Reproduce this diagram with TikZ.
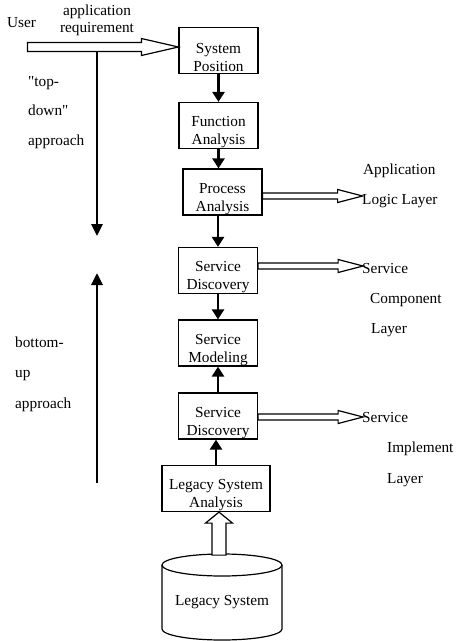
\documentclass[tikz,border=0pt]{standalone}
\usepackage{fontspec}
\setmainfont{Liberation Serif}
\usetikzlibrary{arrows.meta}
\tikzset{
	box/.style={draw, line width=1.2pt, minimum width=79pt, minimum height=46pt, inner sep=0pt,
		label={[align=center, yshift=-7pt]center:#1}},
	flow/.style={line width=2.5pt, -{Triangle[length=10pt,width=12pt]}},
	trend/.style={line width=2.8pt, -{Triangle[length=12pt,width=11pt]}},
	hollow/.style={line width=1.2pt, fill=white, line join=miter},
	note/.style={anchor=base west, inner sep=0pt}
}
\begin{document}
\begin{tikzpicture}[x=1pt,y=-1pt,font=\fontsize{15.3}{18}\selectfont]
		\useasboundingbox (0,0) rectangle (474,641);
		% boxes
		\node[box={System\\Position}] (sp) at (218.5,50.5) {};
		\node[box={Function\\Analysis}] (fa) at (218.5,125.5) {};
		\node[box={Process\\Analysis}] (pa) at (222.5,192) {};
		\node[box={Service\\Discovery}] (sd1) at (218,270.5) {};
		\node[box={Service\\Modeling}] (sm) at (218,343) {};
		\node[box={Service\\Discovery}] (sd2) at (218,416) {};
		\node[box={Legacy System\\Analysis}, minimum width=108pt] (lsa) at (216,488.5) {};
		% legacy system
		\draw [line width=1.2pt] (162,565)--(162,629) arc[start angle=180, end angle=0, x radius=60, y radius=11]--(282,565);
		\draw [line width=1.2pt] (222,565) ellipse[x radius=60, y radius=11];
		\node[anchor=base] (ls) at (222,605) {Legacy System};
		% flow
		\draw [flow] (sp.south)--(fa.north);
		\draw [flow] (fa.south)--(fa.south |- pa.north);
		\draw [flow] (sd1.north |- pa.south)--(sd1.north);
		\draw [flow] (sd1.south)--(sm.north);
		\draw [flow] (sd2.north)--(sm.south);
		\draw [flow] (lsa.north)--(lsa.north |- sd2.south);
		% hollow arrows
		\draw [hollow] ([yshift=3.5pt]sp.west)--++(-37,-8.5)--++(0,4)--++(-114,0)--++(0,9)--++(114,0)--++(0,4)--cycle;
		\draw [hollow] ([yshift=-1pt]pa.east)--++(75,0)--++(0,-3.5)--++(25,6.5)--++(-25,6.5)--++(0,-3.5)--++(-75,0)--cycle;
		\draw [hollow] ([yshift=7.5pt]sd1.east)--++(80,0)--++(0,-3.5)--++(25,6.5)--++(-25,6.5)--++(0,-3.5)--++(-80,0)--cycle;
		\draw [hollow] ([yshift=2pt]sd2.east)--++(80,0)--++(0,-3.5)--++(25,6.5)--++(-25,6.5)--++(0,-3.5)--++(-80,0)--cycle;
		\draw [hollow] ([xshift=3pt]lsa.south)--++(13.5,11)--++(-6.5,0)--++(0,32)--++(-14,0)--++(0,-32)--++(-6.5,0)--cycle;
		% approaches
		\coordinate (tdtop) at (97,52);
		\coordinate (tdend) at (97,236);
		\coordinate (bubot) at (97,483);
		\coordinate (buend) at (97,273);
		\draw [trend] (tdtop)--(tdend);
		\draw [trend] (bubot)--(buend);
		% texts
		\node[note] (user) at (7,27) {User};
		\node[align=center] (req) at (97,20) {application\\[-1pt]requirement};
		\node[note] (td1) at (28,86) {\textquotedbl top-};
		\node[note] (td2) at (28,115) {down\textquotedbl};
		\node[note] (td3) at (28,145) {approach};
		\node[note] (bu1) at (15,347) {bottom-};
		\node[note] (bu2) at (15,377) {up};
		\node[note] (bu3) at (15,408) {approach};
		\node[note] (al1) at (363,174) {Application};
		\node[note] (al2) at (362,204) {Logic Layer};
		\node[note] (sc1) at (362,273) {Service};
		\node[note] (sc2) at (370,303) {Component};
		\node[note] (sc3) at (371,333) {Layer};
		\node[note] (si1) at (362,422) {Service};
		\node[note] (si2) at (387,452) {Implement};
		\node[note] (si3) at (387,483) {Layer};
\end{tikzpicture}
\end{document}
